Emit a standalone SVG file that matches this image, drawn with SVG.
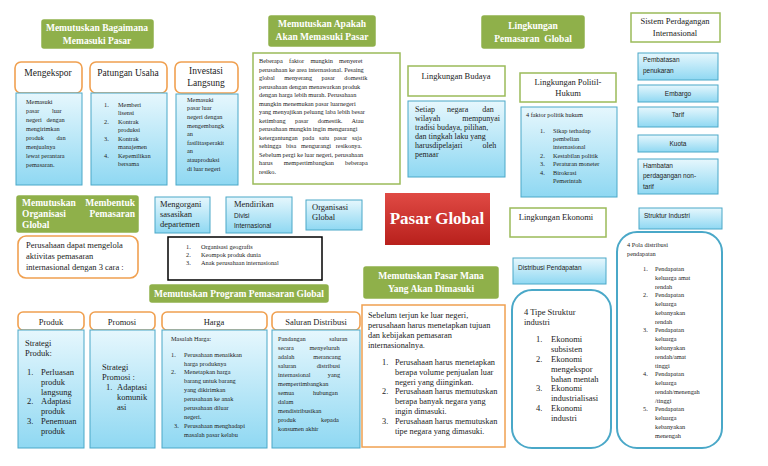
<svg xmlns="http://www.w3.org/2000/svg" width="768" height="466" viewBox="0 0 768 466">
<defs>
<linearGradient id="bg" x1="0" y1="0" x2="0" y2="1"><stop offset="0" stop-color="#e6f7fd"/><stop offset="1" stop-color="#8fd8f2"/></linearGradient>
<linearGradient id="rg" x1="0" y1="0" x2="0" y2="1"><stop offset="0" stop-color="#e04a44"/><stop offset="1" stop-color="#b8201c"/></linearGradient>
</defs>
<style>
text{font-family:"Liberation Serif",serif;fill:#222;white-space:pre}
.g{fill:#8fb04a;stroke:#fff;stroke-width:2.5}
text.gt{fill:#ffffff;font-weight:bold;font-size:9.5px;text-anchor:middle}
.o{fill:#fff;stroke:#f0a050;stroke-width:1.6}
.b{fill:url(#bg);stroke:#4aa8c8;stroke-width:1}
.w{fill:#fff;stroke:#9bbb59;stroke-width:1.5}
.h{font-size:9.5px;text-anchor:middle}
.s{font-size:6.3px}
.m{font-size:8.5px}
.sa{font-family:"Liberation Sans",sans-serif;font-size:6.5px}
.c{fill:#fff;stroke:#4aa8c8;stroke-width:2}
</style>

<g id="bagaimana"><rect class="g" x="40" y="18" width="115" height="32" rx="4"/><text class="gt" x="97" y="31">Memutuskan Bagaimana</text><text class="gt" x="97" y="44">Memasuki Pasar</text></g>

<g id="mengekspor"><rect class="o" x="15" y="62" width="67" height="31" rx="6"/><text class="h" x="48" y="76">Mengekspor</text>
<rect class="b" x="16" y="93" width="66" height="92"/>
<text class="s"><tspan x="26" y="104">Memasuki</tspan><tspan x="26" y="113">pasar        luar</tspan><tspan x="26" y="122">negeri   dengan</tspan><tspan x="26" y="131">mengirimkan</tspan><tspan x="26" y="140">produk        dan</tspan><tspan x="26" y="149">menjualnya</tspan><tspan x="26" y="158">lewat perantara</tspan><tspan x="26" y="167">pemasaran.</tspan></text></g>

<g id="patungan"><rect class="o" x="90" y="62" width="77" height="31" rx="6"/><text class="h" x="128" y="76">Patungan Usaha</text>
<rect class="b" x="91" y="93" width="76" height="92"/>
<text class="s"><tspan x="104" y="107">1.</tspan><tspan x="118" y="107">Memberi</tspan><tspan x="118" y="115">lisensi</tspan><tspan x="104" y="124">2.</tspan><tspan x="118" y="124">Kontrak</tspan><tspan x="118" y="132">produksi</tspan><tspan x="104" y="141">3.</tspan><tspan x="118" y="141">Kontrak</tspan><tspan x="118" y="149">manajemen</tspan><tspan x="104" y="158">4.</tspan><tspan x="118" y="158">Kepemilikan</tspan><tspan x="118" y="166">bersama</tspan></text></g>

<g id="investasi"><rect class="o" x="175" y="62" width="63" height="31" rx="6"/><text class="h" x="206" y="74">Investasi</text><text class="h" x="206" y="86">Langsung</text>
<rect class="b" x="176" y="94" width="62" height="91"/>
<text class="s"><tspan x="187" y="102">Memasuki</tspan><tspan x="187" y="110">pasar luar</tspan><tspan x="187" y="119">negeri dengan</tspan><tspan x="187" y="128">mengembangk</tspan><tspan x="187" y="136">an</tspan><tspan x="187" y="145">fasilitasperakit</tspan><tspan x="187" y="153">an</tspan><tspan x="187" y="162">atauproduksi</tspan><tspan x="187" y="171">di luar negeri</tspan></text></g>

<g id="apakah"><rect class="g" x="267" y="14" width="110" height="34" rx="4"/><text class="gt" x="322" y="27">Memutuskan Apakah</text><text class="gt" x="322" y="40">Akan Memasuki Pasar</text>
<rect class="w" x="253" y="53" width="147" height="131"/>
<text class="s"><tspan x="259" y="63">Beberapa    faktor    mungkin    menyeret</tspan><tspan x="259" y="71.5">perusahaan ke area internasional. Pesaing</tspan><tspan x="259" y="80">global      menyerang      pasar      domestik</tspan><tspan x="259" y="88.5">perusahaan dengan menawarkan produk</tspan><tspan x="259" y="97">dengan harga lebih murah. Perusahaan</tspan><tspan x="259" y="105.5">mungkin menemukan pasar luarnegeri</tspan><tspan x="259" y="114">yang menyajikan peluang laba lebih besar</tspan><tspan x="259" y="122.5">ketimbang      pasar      domestik.      Atau</tspan><tspan x="259" y="131">perusahaan mungkin ingin mengurangi</tspan><tspan x="259" y="139.5">ketergantungan   pada   satu   pasar   saja</tspan><tspan x="259" y="148">sehingga   bisa   mengurangi   resikonya.</tspan><tspan x="259" y="156.5">Sebelum pergi ke luar negeri, perusahaan</tspan><tspan x="259" y="165">harus       mempertimbangkan       beberapa</tspan><tspan x="259" y="173.5">resiko.</tspan></text></g>

<g id="lingkungan"><rect class="g" x="480" y="14" width="106" height="36" rx="4"/><text class="gt" x="533" y="29">Lingkungan</text><text class="gt" x="533" y="42">Pemasaran  Global</text></g>

<g id="sistem"><rect class="w" x="631" y="13" width="89" height="29"/><text class="h" x="675" y="24" style="font-size:8.5px">Sistem Perdagangan</text><text class="h" x="675" y="36" style="font-size:8.5px">Internasional</text>
<rect class="b" x="638" y="53" width="80" height="27"/><text class="sa"><tspan x="643" y="62">Pembatasan</tspan><tspan x="643" y="73">penukaran</tspan></text>
<rect class="b" x="638" y="85" width="80" height="17"/><text class="sa" x="678" y="96" text-anchor="middle">Embargo</text>
<rect class="b" x="638" y="107" width="80" height="20"/><text class="sa" x="678" y="117" text-anchor="middle">Tarif</text>
<rect class="b" x="638" y="135" width="80" height="17"/><text class="sa" x="678" y="146" text-anchor="middle">Kuota</text>
<rect class="b" x="638" y="159" width="80" height="35"/><text class="sa"><tspan x="643" y="168">Hambatan</tspan><tspan x="643" y="178">perdagangan non-</tspan><tspan x="643" y="189">tarif</tspan></text></g>

<g id="budaya"><rect class="w" x="408" y="66" width="97" height="30"/><text class="h" x="456" y="79" style="font-size:8.5px">Lingkungan Budaya</text>
<rect class="b" x="408" y="101" width="97" height="76"/>
<text style="font-size:8px"><tspan x="415" y="112">Setiap      negara       dan</tspan><tspan x="415" y="121">wilayah           mempunyai</tspan><tspan x="415" y="130">tradisi budaya, pilihan,</tspan><tspan x="415" y="139">dan tingkah laku yang</tspan><tspan x="415" y="148">harusdipelajari          oleh</tspan><tspan x="415" y="157">pemaar</tspan></text></g>

<g id="politik"><rect class="w" x="520" y="73" width="96" height="29"/><text class="h" x="568" y="85" style="font-size:8.5px">Lingkungan Politil-</text><text class="h" x="568" y="96" style="font-size:8.5px">Hukum</text>
<rect class="b" x="521" y="107" width="96" height="90"/>
<text class="s"><tspan x="526" y="117">4 faktor politik hukum</tspan><tspan x="540" y="133">1.</tspan><tspan x="553" y="133">Sikap terhadap</tspan><tspan x="553" y="141">pembelian</tspan><tspan x="553" y="149">internasional</tspan><tspan x="540" y="158">2.</tspan><tspan x="553" y="158">Kestabilan politik</tspan><tspan x="540" y="166">3.</tspan><tspan x="553" y="166">Peraturan moneter</tspan><tspan x="540" y="175">4.</tspan><tspan x="553" y="175">Birokrasi</tspan><tspan x="553" y="183">Pemerintah</tspan></text></g>

<g id="pasar-global"><rect x="385" y="193" width="105" height="52" fill="url(#rg)"/><text x="437" y="224" style="font-size:17px;font-weight:bold;fill:#fff" text-anchor="middle">Pasar Global</text></g>

<g id="ekonomi"><rect class="w" x="510" y="208" width="96" height="29"/><text class="h" x="556" y="220" style="font-size:8.5px">Lingkungan Ekonomi</text></g>

<g id="struktur"><rect class="b" x="639" y="208" width="83" height="21"/><text class="sa" x="644" y="218">Struktur Industri</text></g>

<g id="membentuk"><rect class="g" x="15" y="194" width="125" height="40" rx="4"/>
<text class="gt" style="text-anchor:start"><tspan x="22" y="206">Memutuskan    Membentuk</tspan><tspan x="22" y="217">Organisasi          Pemasaran</tspan><tspan x="22" y="228">Global</tspan></text>
<rect class="o" x="18" y="236" width="120" height="42" rx="8"/>
<text class="m"><tspan x="26" y="248">Perusahaan dapat mengelola</tspan><tspan x="26" y="259">aktivitas pemasaran</tspan><tspan x="26" y="270">internasional dengan 3 cara :</tspan></text></g>

<g id="org-boxes">
<rect class="b" x="155" y="197" width="55" height="36"/><text class="m"><tspan x="160" y="207">Mengorgani</tspan><tspan x="160" y="217">sasasikan</tspan><tspan x="160" y="227">departemen</tspan></text>
<rect class="b" x="226" y="197" width="66" height="36"/><text class="m" x="234" y="207">Mendirikan</text><text class="sa"><tspan x="234" y="218">Divisi</tspan><tspan x="234" y="228">Internasional</tspan></text>
<rect class="b" x="306" y="200" width="56" height="30"/><text class="m"><tspan x="312" y="210">Organisasi</tspan><tspan x="312" y="220">Global</tspan></text>
<rect x="168" y="237" width="154" height="43" fill="#fff" stroke="#000" stroke-width="1.5"/>
<text class="s"><tspan x="186" y="249">1.</tspan><tspan x="201" y="249">Organisasi geografis</tspan><tspan x="186" y="257">2.</tspan><tspan x="201" y="257">Keompok produk dunia</tspan><tspan x="186" y="265">3.</tspan><tspan x="201" y="265">Anak perusahaan internasional</tspan></text></g>

<g id="program"><rect class="g" x="148" y="283" width="182" height="21" rx="4"/><text class="gt" x="239" y="297">Memutuskan Program Pemasaran Global</text></g>

<g id="produk"><rect class="o" x="18" y="312" width="66" height="18" rx="5"/><text class="h" x="51" y="325" style="font-size:8.5px">Produk</text>
<rect class="b" x="18" y="330" width="66" height="118"/>
<text style="font-size:8.5px"><tspan x="25" y="346">Strategi</tspan><tspan x="25" y="356">Produk:</tspan><tspan x="27" y="375">1.</tspan><tspan x="41" y="375">Perluasan</tspan><tspan x="41" y="385">produk</tspan><tspan x="41" y="395">langsung</tspan><tspan x="27" y="404">2.</tspan><tspan x="41" y="404">Adaptasi</tspan><tspan x="41" y="414">produk</tspan><tspan x="27" y="424">3.</tspan><tspan x="41" y="424">Penemuan</tspan><tspan x="41" y="434">produk</tspan></text></g>

<g id="promosi"><rect class="o" x="90" y="312" width="65" height="18" rx="5"/><text class="h" x="122" y="325" style="font-size:8.5px">Promosi</text>
<rect class="b" x="90" y="330" width="65" height="118"/>
<text style="font-size:8.5px"><tspan x="102" y="370">Strategi</tspan><tspan x="102" y="380">Promosi :</tspan><tspan x="106" y="390">1.</tspan><tspan x="117" y="390">Adaptasi</tspan><tspan x="117" y="400">komunik</tspan><tspan x="117" y="410">asi</tspan></text></g>

<g id="harga"><rect class="o" x="162" y="312" width="105" height="18" rx="5"/><text class="h" x="214" y="325" style="font-size:8.5px">Harga</text>
<rect class="b" x="162" y="330" width="105" height="118"/>
<text class="s"><tspan x="171" y="341">Masalah Harga:</tspan><tspan x="171" y="357">1.</tspan><tspan x="184" y="357">Perusahaan menaikkan</tspan><tspan x="184" y="366">harga produknya</tspan><tspan x="171" y="374">2.</tspan><tspan x="184" y="374">Menetapkan harga</tspan><tspan x="184" y="383">barang untuk barang</tspan><tspan x="184" y="392">yang dikirimkan</tspan><tspan x="184" y="401">perusahaan ke anak</tspan><tspan x="184" y="410">perusahaan diluar</tspan><tspan x="184" y="419">negeri.</tspan><tspan x="174" y="428">3.</tspan><tspan x="184" y="428">Perusahaan menghadapi</tspan><tspan x="184" y="437">masalah pasar kelabu</tspan></text></g>

<g id="saluran"><rect class="o" x="272" y="312" width="88" height="18" rx="5"/><text class="h" x="316" y="325" style="font-size:8.5px">Saluran Distribusi</text>
<rect class="b" x="272" y="330" width="88" height="118"/>
<text class="s"><tspan x="278" y="341">Pandangan               saluran</tspan><tspan x="278" y="350">secara          menyeluruh</tspan><tspan x="278" y="359">adalah            merancang</tspan><tspan x="278" y="368">saluran             distribusi</tspan><tspan x="278" y="377">internasional           yang</tspan><tspan x="278" y="386">mempertimbangkan</tspan><tspan x="278" y="395">semua            hubungan</tspan><tspan x="278" y="404">dalam</tspan><tspan x="278" y="413">mendistribusikan</tspan><tspan x="278" y="422">produk                kepada</tspan><tspan x="278" y="431">konsumen akhir</tspan></text></g>

<g id="pasar-mana"><rect class="g" x="362" y="265" width="138" height="35" rx="4"/><text class="gt" x="431" y="279">Memutuskan Pasar Mana</text><text class="gt" x="431" y="292">Yang Akan Dimasuki</text>
<rect x="362" y="305" width="143" height="142" fill="#fff" stroke="#f0a050" stroke-width="1.5"/>
<text style="font-size:8.3px"><tspan x="368" y="318">Sebelum terjun ke luar negeri,</tspan><tspan x="368" y="328">perusahaan harus menetapkan tujuan</tspan><tspan x="368" y="338">dan kebijakan pemasaran</tspan><tspan x="368" y="348">internasionalnya.</tspan><tspan x="382" y="365">1.</tspan><tspan x="395" y="365">Perusahaan harus menetapkan</tspan><tspan x="395" y="375">berapa volume penjualan luar</tspan><tspan x="395" y="385">negeri yang diinginkan.</tspan><tspan x="382" y="394">2.</tspan><tspan x="395" y="394">Perusahaan harus memutuskan</tspan><tspan x="395" y="404">berapa banyak negara yang</tspan><tspan x="395" y="414">ingin dimasuki.</tspan><tspan x="382" y="424">3.</tspan><tspan x="395" y="424">Perusahaan harus memutuskan</tspan><tspan x="395" y="434">tipe negara yang dimasuki.</tspan></text></g>

<g id="distribusi"><rect class="b" x="513" y="258" width="93" height="26"/><text class="sa" x="518" y="270">Distribusi Pendapatan</text></g>

<g id="tipe"><rect class="c" x="512" y="290" width="99" height="158" rx="20"/>
<text style="font-size:8.5px"><tspan x="524" y="315">4 Tipe Struktur</tspan><tspan x="524" y="325">industri</tspan><tspan x="536" y="342">1.</tspan><tspan x="551" y="342">Ekonomi</tspan><tspan x="551" y="352">subsisten</tspan><tspan x="536" y="362">2.</tspan><tspan x="551" y="362">Ekonomi</tspan><tspan x="551" y="372">mengekspor</tspan><tspan x="551" y="382">bahan mentah</tspan><tspan x="536" y="391">3.</tspan><tspan x="551" y="391">Ekonomi</tspan><tspan x="551" y="401">industrialisasi</tspan><tspan x="536" y="411">4.</tspan><tspan x="551" y="411">Ekonomi</tspan><tspan x="551" y="421">industri</tspan></text></g>

<g id="pola"><rect class="c" x="617" y="232" width="105" height="216" rx="20"/>
<text class="s"><tspan x="627" y="247">4 Pola distribusi</tspan><tspan x="627" y="256">pendapatan</tspan><tspan x="643" y="271">1.</tspan><tspan x="655" y="271">Pendapatan</tspan><tspan x="655" y="280">keluarga amat</tspan><tspan x="655" y="289">rendah</tspan><tspan x="643" y="297">2.</tspan><tspan x="655" y="297">Pendapatan</tspan><tspan x="655" y="306">keluarga</tspan><tspan x="655" y="315">kebanyakan</tspan><tspan x="655" y="324">rendah</tspan><tspan x="643" y="332">3.</tspan><tspan x="655" y="332">Pendapatan</tspan><tspan x="655" y="341">keluarga</tspan><tspan x="655" y="350">kebanyakan</tspan><tspan x="655" y="359">rendah/amat</tspan><tspan x="655" y="368">tinggi</tspan><tspan x="643" y="376">4.</tspan><tspan x="655" y="376">Pendapatan</tspan><tspan x="655" y="385">keluarga</tspan><tspan x="655" y="394">rendah/menengah</tspan><tspan x="655" y="403">/tinggi</tspan><tspan x="643" y="411">5.</tspan><tspan x="655" y="411">Pendapatan</tspan><tspan x="655" y="420">keluarga</tspan><tspan x="655" y="429">kebanyakan</tspan><tspan x="655" y="438">menengah</tspan></text></g>
</svg>
